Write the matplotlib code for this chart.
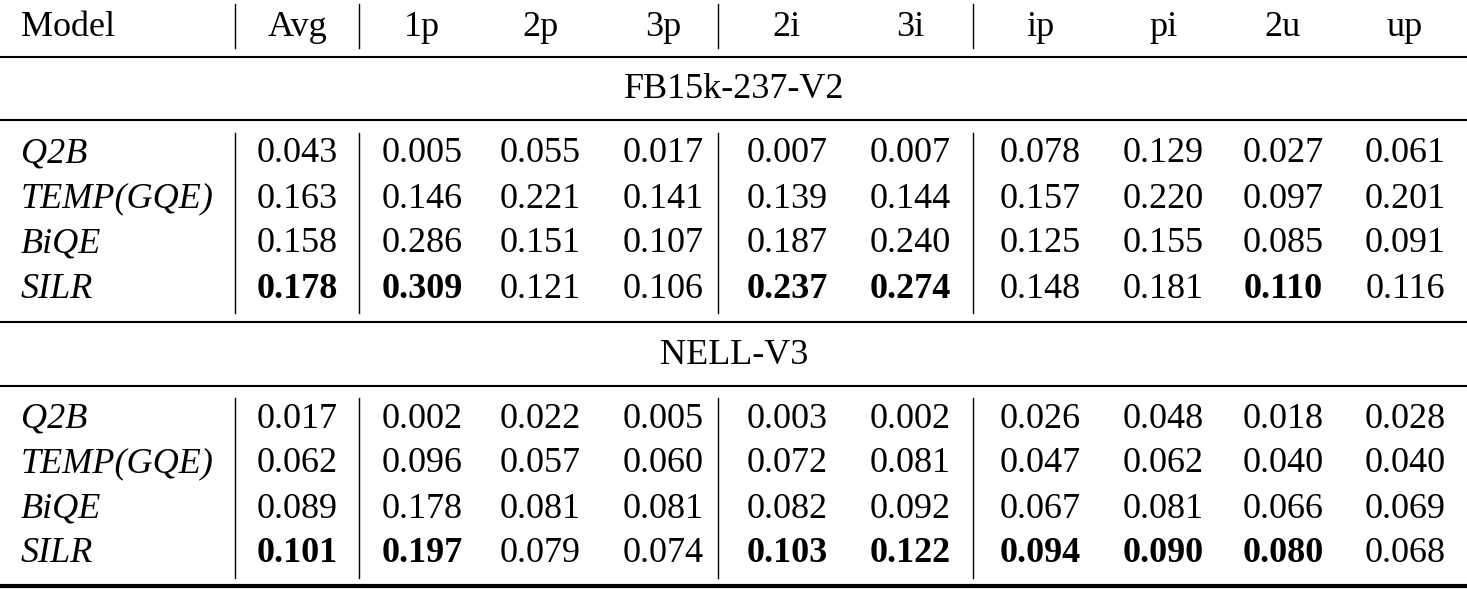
import matplotlib.pyplot as plt

columns = ["Avg", "1p", "2p", "3p", "2i", "3i", "ip", "pi", "2u", "up"]
models = ["Q2B", "TEMP(GQE)", "BiQE", "SILR"]

fb_values = [
    [0.043, 0.005, 0.055, 0.017, 0.007, 0.007, 0.078, 0.129, 0.027, 0.061],
    [0.163, 0.146, 0.221, 0.141, 0.139, 0.144, 0.157, 0.220, 0.097, 0.201],
    [0.158, 0.286, 0.151, 0.107, 0.187, 0.240, 0.125, 0.155, 0.085, 0.091],
    [0.178, 0.309, 0.121, 0.106, 0.237, 0.274, 0.148, 0.181, 0.110, 0.116],
]
nell_values = [
    [0.017, 0.002, 0.022, 0.005, 0.003, 0.002, 0.026, 0.048, 0.018, 0.028],
    [0.062, 0.096, 0.057, 0.060, 0.072, 0.081, 0.047, 0.062, 0.040, 0.040],
    [0.089, 0.178, 0.081, 0.081, 0.082, 0.092, 0.067, 0.081, 0.066, 0.069],
    [0.101, 0.197, 0.079, 0.074, 0.103, 0.122, 0.094, 0.090, 0.080, 0.068],
]
# bold cells: (row, col) indices into each block
fb_bold = [(3, 0), (3, 1), (3, 4), (3, 5), (3, 8)]
nell_bold = [(3, 0), (3, 1), (3, 4), (3, 5), (3, 6), (3, 7), (3, 8)]

W, H = 1467, 589
col_x = [297, 422, 540, 663, 787, 910, 1040, 1163, 1283, 1405]
bar_x = [235, 359, 718, 973]
FS = 26

plt.rcParams["font.family"] = ["Liberation Serif", "DejaVu Serif"]
fig = plt.figure(figsize=(W / 100, H / 100), dpi=100)
ax = fig.add_axes([0, 0, 1, 1])
ax.set_xlim(0, W)
ax.set_ylim(H, 0)
ax.axis("off")

# header
ax.text(21, 27, "Model", fontsize=FS, va="center", ha="left")
for x, c in zip(col_x, columns):
    ax.text(x, 27, c, fontsize=FS, va="center", ha="center")
for bx in bar_x:
    ax.plot([bx, bx], [4, 48], color="black", lw=1)

ax.plot([0, W], [57, 57], color="black", lw=1.5)


def block(title, title_y, rows_y, values, bold, vtop, vbot):
    ax.text(W / 2 + 1, title_y, title, fontsize=FS, va="center", ha="center")
    for r, (y, m) in enumerate(zip(rows_y, models)):
        ax.text(21, y, m, fontsize=FS, va="center", ha="left", style="italic")
        for c, x in enumerate(col_x):
            ax.text(x, y, f"{values[r][c]:.3f}", fontsize=FS, va="center", ha="center",
                    weight="bold" if (r, c) in bold else "normal")
    for bx in bar_x:
        ax.plot([bx, bx], [vtop, vbot], color="black", lw=1)


ax.plot([0, W], [120, 120], color="black", lw=1.5)
block("FB15k-237-V2", 89, [154, 199, 244, 289], fb_values, fb_bold, 133, 313)
ax.plot([0, W], [322, 322], color="black", lw=1.5)
ax.plot([0, W], [386, 386], color="black", lw=1.5)
block("NELL-V3", 355, [419, 464, 509, 554], nell_values, nell_bold, 398, 578)
ax.plot([0, W], [586, 586], color="black", lw=3)

fig.savefig("out.png", dpi=100)
